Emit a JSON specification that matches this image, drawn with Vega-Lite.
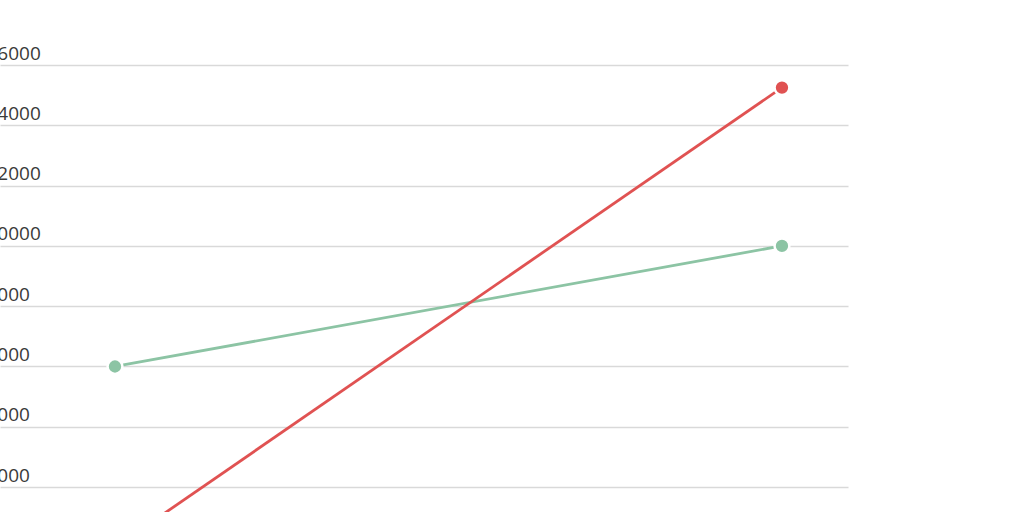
{
  "$schema": "https://vega.github.io/schema/vega-lite/v6.json",
  "width": 848,
  "height": 447,
  "autosize": {"type": "none"},
  "padding": {"top": 65, "left": 0, "right": 176, "bottom": 0},
  "config": {"view": {"stroke": null}, "font": "Open Sans"},
  "data": {
    "values": [
      {"step": 0, "series": "A", "value": 6000},
      {"step": 1, "series": "A", "value": 10000},
      {"step": 0, "series": "B", "value": 0},
      {"step": 1, "series": "B", "value": 15250}
    ]
  },
  "encoding": {
    "x": {"field": "step", "type": "quantitative", "scale": {"domain": [-0.1724, 1.099], "nice": false, "zero": false}, "axis": null},
    "y": {
      "field": "value", "type": "quantitative",
      "scale": {"domain": [1174, 16000], "nice": false, "zero": false},
      "axis": {
        "values": [2000, 4000, 6000, 8000, 10000, 12000, 14000, 16000],
        "format": "d", "title": null, "domain": false, "ticks": false,
        "labelAlign": "left", "labelBaseline": "alphabetic", "labelPadding": 14,
        "labelOffset": -6, "labelFontSize": 19, "labelFontWeight": 500, "labelColor": "#3a3a3a",
        "gridColor": "#d9d9d9", "gridWidth": 1.5
      }
    },
    "color": {"field": "series", "type": "nominal", "scale": {"domain": ["A", "B"], "range": ["#8cc4a4", "#e05252"]}, "legend": null}
  },
  "layer": [
    {"mark": {"type": "line", "strokeWidth": 2.8, "clip": true}},
    {"mark": {"type": "point", "filled": true, "size": 220, "opacity": 1, "stroke": "white", "strokeWidth": 2.5, "clip": true},
     "encoding": {"fill": {"field": "series", "type": "nominal", "scale": {"domain": ["A", "B"], "range": ["#8cc4a4", "#e05252"]}, "legend": null}}}
  ]
}
